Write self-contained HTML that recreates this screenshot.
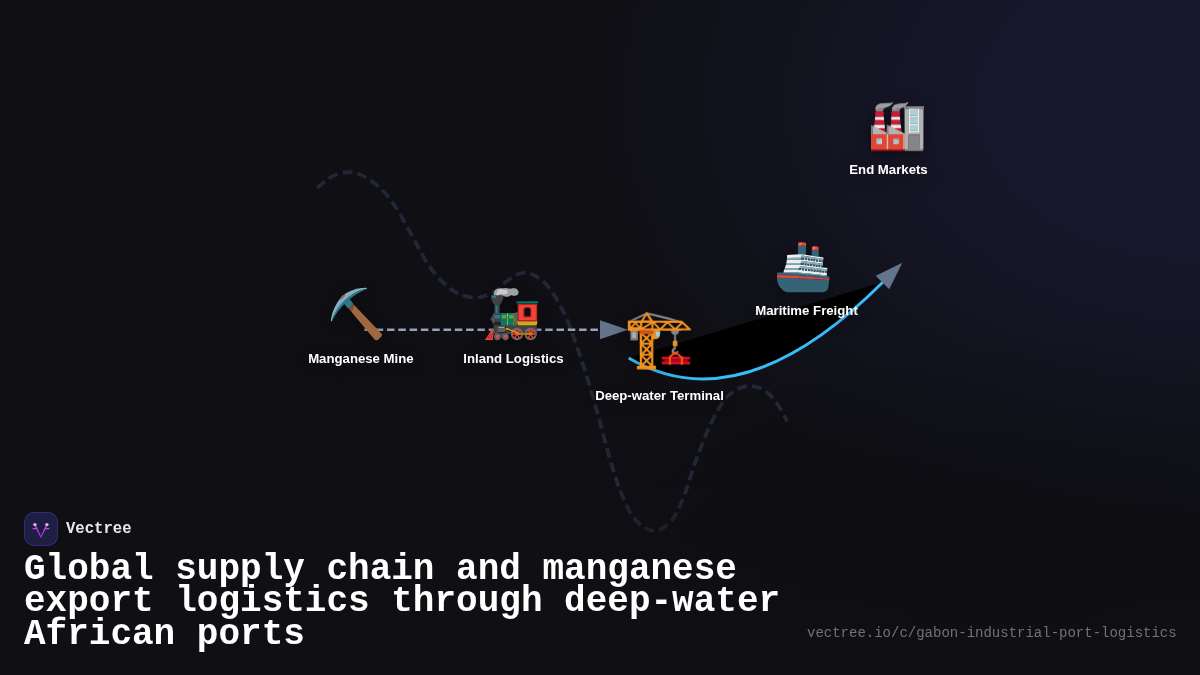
<!DOCTYPE html>
<html lang="en">
<head>
<meta charset="utf-8">
<title>Vectree</title>
<style>
*{box-sizing:border-box;margin:0;padding:0}
html,body{width:1200px;height:675px;overflow:hidden;background:#0f0f14}
body{position:relative;font-family:"Liberation Mono",monospace;color:#fff}
.bg{position:absolute;inset:0;background:radial-gradient(ellipse 610px 440px at 1200px 100px,#17172b 0%,#17172b 35%,rgba(23,23,43,0) 100%),#0f0f14}
.shade{position:absolute;inset:0;background:radial-gradient(ellipse 520px 300px at 1000px 620px,rgba(0,0,0,.24) 0%,rgba(0,0,0,0) 100%)}
.fade{position:absolute;left:0;right:0;top:488px;height:187px;background:linear-gradient(to bottom,rgba(15,15,20,.04) 0%,rgba(15,15,20,.6) 50%,#0f0f14 100%)}
svg.dia{position:absolute;left:0;top:0;width:1200px;height:675px;overflow:visible}
.nodes{filter:drop-shadow(0 3px 8px rgba(0,0,0,.42))}
.lbl{font-family:"Liberation Sans",sans-serif;font-weight:700;font-size:13.2px;fill:#fff;text-anchor:middle}
.brand{position:absolute;left:24px;top:512px;height:34px;display:flex;align-items:center;will-change:transform}
.logo{width:34px;height:34px;border-radius:10px;background:#1e1e42;box-shadow:inset 0 0 0 1px #2f2c78;overflow:hidden}
.logo svg{display:block}
.brand span{margin-left:8px;font-weight:700;font-size:15.6px;color:#e8e8e8}
h1{position:absolute;left:24px;top:554px;font-size:36px;line-height:32.4px;font-weight:700;color:#fff;width:800px;will-change:transform}
.url{position:absolute;right:23.4px;top:625px;font-size:14px;color:#717178;line-height:16px;will-change:transform}
</style>
</head>
<body>
<div class="bg"></div>
<div class="shade"></div>
<svg class="dia" viewBox="0 0 1200 675">
  <path d="M317.1,188.0 C319.4,186.2 326.0,179.7 330.8,177.1 C335.6,174.5 341.4,172.8 346.2,172.3 C350.9,171.8 355.1,172.8 359.3,174.2 C363.5,175.6 367.4,178.3 371.1,180.9 C374.9,183.5 378.4,186.3 381.8,189.6 C385.2,192.9 388.4,197.0 391.3,200.8 C394.2,204.6 396.6,208.5 399.1,212.6 C401.6,216.7 403.9,221.0 406.2,225.2 C408.5,229.4 410.9,233.5 413.1,237.7 C415.4,241.8 417.4,246.0 419.7,250.1 C422.0,254.2 424.2,258.4 426.8,262.4 C429.4,266.3 432.1,270.2 435.1,273.8 C438.1,277.4 441.1,280.9 444.6,284.0 C448.2,287.1 451.9,290.4 456.4,292.7 C460.9,294.9 467.2,296.9 471.8,297.5 C476.4,298.1 479.6,297.5 483.7,296.3 C487.8,295.1 492.9,292.9 496.7,290.4 C500.4,287.9 502.6,284.1 506.2,281.4 C509.8,278.7 514.8,275.6 518.0,274.2 C521.2,272.8 522.6,272.7 525.2,272.8 C527.8,272.9 530.4,273.4 533.5,275.0 C536.6,276.6 540.4,278.3 544.1,282.1 C547.9,285.9 552.1,291.7 556.0,298.0 C559.9,304.3 563.9,312.3 567.2,320.0 C570.5,327.7 573.1,335.7 576.0,344.0 C578.9,352.3 582.1,361.7 584.8,370.0 C587.5,378.3 589.7,386.0 592.0,394.0 C594.3,402.0 596.6,410.0 598.8,418.0 C601.0,426.0 603.0,434.0 605.2,442.0 C607.4,450.0 609.5,458.0 612.0,466.0 C614.5,474.0 617.0,482.3 620.0,490.0 C623.0,497.7 626.3,506.0 630.0,512.0 C633.7,518.0 638.0,522.9 642.0,526.0 C646.0,529.1 650.0,530.8 654.0,530.8 C658.0,530.8 662.3,528.8 666.0,526.0 C669.7,523.2 672.9,519.3 676.0,514.0 C679.1,508.7 682.1,501.0 684.8,494.0 C687.5,487.0 689.5,479.3 692.0,472.0 C694.5,464.7 697.3,457.0 700.0,450.0 C702.7,443.0 705.0,436.7 708.0,430.0 C711.0,423.3 714.7,415.7 718.0,410.0 C721.3,404.3 724.3,399.7 728.0,396.0 C731.7,392.3 736.0,389.7 740.0,388.0 C744.0,386.3 748.0,385.7 752.0,386.0 C756.0,386.3 760.0,387.3 764.0,390.0 C768.0,392.7 772.1,396.8 776.0,402.0 C779.9,407.2 785.3,418.0 787.2,421.2" fill="none" stroke="#212835" stroke-width="3.75" stroke-dasharray="10 5"/>
  <line x1="364.400" y1="329.750" x2="600" y2="329.750" stroke="#94a3b8" stroke-width="2.500" stroke-dasharray="7.500 3.800"/>
  <polygon points="600,320.200 628,329.750 600,339.300" fill="#64748b"/>
  <path d="M628.75,358 Q741,424 883,282" stroke="#38bdf8" stroke-width="3"/>
  <polygon points="0,-9.500 28,0 0,9.500" fill="#64748b" transform="translate(882.500,282.500) rotate(-45)"/>
  <g class="nodes">
<g transform="translate(326.72,286.1) scale(0.1193)" fill-rule="evenodd"><path fill="#a06841" d="M228 157L219 189L206 215L399 445L410 453L423 453L431 449L461 421L463 406L460 399ZM153 68L149 68L131 79L114 97L108 110L119 111L136 101L151 85L155 77Z"/><path fill="#82aec0" d="M337 17L332 14L296 15L249 23L204 38L172 54L152 67L151 69L154 75L147 87L127 105L117 110L109 109L90 135L70 170L54 207L44 238L36 276L35 293L42 295L47 288L45 286L59 249L78 213L94 188L129 144L165 109L201 80L236 58L286 35L316 26L327 24L330 26L334 25L337 22Z"/><path fill="#2f7788" d="M332 25L330 23L314 25L266 41L220 65L187 88L163 108L120 151L83 201L58 247L49 269L44 288L47 288L69 248L100 204L147 151L175 183L179 183L181 185L182 183L192 179L214 159L221 149L218 140L191 111L221 87L259 62L285 47Z"/><path fill="#7c5133" d="M220 148L198 172L190 178L180 182L182 187L207 216L209 215L220 191L229 159Z"/></g>
<g transform="translate(481.92,286.1) scale(0.1193)" fill-rule="evenodd"><path fill="#424242" d="M84 383L79 384L47 439L47 443L55 443L83 388ZM93 382L89 382L70 437L70 443L78 442L92 391ZM428 376L419 391L419 396L442 396L442 390L434 376ZM384 375L375 388L374 396L397 396L397 391L388 375ZM315 375L306 390L306 394L310 396L328 396L328 389L324 381L319 375ZM398 367L397 373L405 387L410 388L419 373L419 367ZM284 367L283 372L290 384L290 387L297 388L306 372L306 368L300 366ZM460 324L452 327L97 326L97 402L112 402L125 396L135 396L147 402L156 413L158 419L158 431L169 431L169 419L173 410L179 403L187 398L202 396L216 402L242 402L244 383L214 371L202 371L201 384L197 390L192 392L139 391L137 385L133 382L130 368L131 348L136 338L191 338L194 342L199 344L201 354L211 352L216 355L221 355L225 359L251 370L254 370L263 360L275 353L292 349L308 351L323 358L333 367L342 381L346 396L357 395L358 387L364 374L372 364L381 357L395 351L412 349L425 352L438 359L446 366L454 377L457 385L460 386ZM87 266L86 268L82 267L82 286L86 285L88 287L91 284L91 269ZM178 75L118 75L117 78L122 82L122 99L120 101L87 101L85 99L85 82L92 76L76 77L76 100L80 113L93 141L106 161L106 225L97 226L95 230L97 233L99 250L99 310L109 306L150 306L157 310L160 309L161 252L158 226L149 225L149 160L162 140L175 112L179 99L180 79ZM105 246L108 243L151 243L154 249L155 269L152 273L109 273L106 270ZM114 162L132 163L131 225L113 224Z"/><path fill="#f34336" d="M192 407L186 410L180 419L180 430L184 437L192 442L202 442L207 440L213 434L215 429L215 420L213 415L207 409L202 407ZM125 407L120 409L113 417L113 432L122 441L135 442L141 439L146 433L147 419L144 413L138 408ZM254 383L251 396L253 415L259 427L268 436L277 441L287 444L301 444L314 440L329 428L335 417L337 406L327 406L329 408L327 414L317 428L305 409L307 407L305 403L281 394L262 395L263 385ZM294 413L306 432L305 435L288 436L282 433ZM260 409L261 407L284 408L272 428L264 419ZM98 363L86 366L77 374L33 442L26 446L25 452L96 452L96 447L91 442L98 401ZM75 396L76 398L54 441L49 442L48 441ZM90 385L91 389L77 440L72 442L71 439ZM398 359L385 364L373 375L367 386L365 396L375 396L379 384L386 376L395 391L396 396L420 396L420 393L430 377L432 377L438 385L441 394L425 395L426 403L424 407L441 407L442 410L440 416L431 428L418 408L419 406L397 406L398 408L386 428L378 419L374 409L375 406L366 406L367 416L373 427L382 436L391 441L401 444L423 442L437 434L446 423L451 409L450 389L443 375L431 364L418 359ZM408 413L420 432L418 435L402 436L396 433ZM417 368L418 371L408 387L398 370L404 367ZM262 372L262 375L271 377L278 382L291 386L291 382L284 370L290 367L303 368L305 370L296 385L297 390L307 393L317 376L323 383L327 391L327 396L337 396L335 385L327 372L317 364L308 360L297 358L280 360L271 364ZM309 157L309 285L311 287L448 288L453 285L454 160L452 155L313 154ZM359 181L371 176L386 175L402 180L412 189L413 256L409 260L356 261L349 256L349 191Z"/><path fill="#01796b" d="M215 226L219 259L219 299L216 328L264 328L267 305L267 253L264 226ZM224 245L226 243L258 243L262 256L261 272L227 273L225 271ZM156 226L160 254L160 303L158 308L158 328L210 328L213 300L213 256L209 226ZM168 244L201 243L205 252L205 271L203 273L171 273L168 268ZM289 129L289 142L293 144L295 142L472 142L471 128Z"/><path fill="#546e79" d="M191 395L181 399L172 408L168 417L168 430L174 442L182 449L192 453L203 453L216 447L222 440L226 431L226 418L222 409L216 402L217 400L204 395ZM194 408L205 410L212 417L214 422L212 432L205 439L200 441L194 441L187 437L181 428L181 421L188 411ZM111 400L112 402L105 409L101 419L101 430L105 440L114 449L124 453L136 453L147 448L154 441L159 430L159 417L153 405L146 399L137 395L123 395ZM127 408L133 408L139 411L146 421L145 431L139 438L133 441L122 439L116 433L113 426L116 416L122 410ZM243 383L241 401L246 422L251 431L261 442L277 451L295 454L318 448L326 443L335 434L344 418L347 406L336 406L334 415L328 426L316 437L299 443L284 442L270 435L260 425L256 418L252 403L256 382L245 379ZM414 348L393 350L379 356L371 362L360 377L355 396L366 396L370 383L374 377L387 365L400 360L408 359L425 363L432 367L442 377L446 383L450 395L449 411L440 428L431 436L421 441L403 443L387 437L372 422L368 414L367 406L355 406L363 428L376 443L388 450L407 454L421 452L440 443L452 430L460 410L460 384L458 383L451 369L445 362L434 354ZM253 367L253 371L263 374L270 367L282 361L294 359L306 361L315 365L326 374L334 387L336 396L347 396L343 379L334 365L325 357L310 350L300 348L279 350L267 355ZM79 261L74 271L74 282L77 290L81 292L83 285L82 262Z"/><path fill="#9fa0a2" d="M135 346L136 354L190 354L192 352L192 346L189 341L138 341ZM156 21L138 20L127 23L116 29L108 37L102 47L99 59L100 75L97 77L118 78L121 61L129 45L141 32L155 24ZM143 75L176 76L179 83L181 82L190 87L203 90L221 89L243 77L248 76L261 80L279 81L292 77L302 70L307 58L307 45L303 36L294 26L288 22L276 18L254 18L239 22L232 22L200 15L173 17L158 22L175 32L197 31L206 34L216 44L217 55L215 60L203 68L191 69L182 67L161 67L144 72Z"/><path fill="#e1a511" d="M196 353L197 366L217 367L259 385L262 388L277 393L280 396L284 396L303 404L305 407L355 406L374 408L426 407L427 397L425 395L312 395L297 387L280 381L273 376L269 376L227 358L223 354L218 354L213 351L206 351L200 354ZM299 321L303 327L307 328L454 328L460 325L463 307L299 307ZM263 226L266 255L266 303L263 328L271 328L275 289L274 250L271 226ZM208 226L212 258L212 298L209 328L217 328L220 301L219 244L217 227Z"/><path fill="#c32a29" d="M357 180L348 189L348 258L354 262L411 261L414 258L413 187L404 179L388 174L374 174ZM363 186L373 182L389 182L401 187L407 193L406 254L356 253L356 192ZM298 146L300 148L300 216L298 217L299 297L463 297L463 147ZM310 159L315 155L450 156L453 162L452 283L446 287L313 286L310 283Z"/><path fill="#62605f" d="M133 338L129 354L129 370L133 386L194 386L198 370L198 354L196 342L193 337ZM136 348L140 342L187 342L190 345L191 350L188 353L138 353ZM95 230L88 251L87 268L90 271L90 282L87 285L87 293L90 310L93 319L97 324L100 314L101 278L98 231ZM300 217L270 226L274 272L273 305L270 328L304 328L304 324L300 319L300 307L295 303L296 299L300 297Z"/><path fill="#2f7888" d="M104 244L105 272L107 274L155 273L156 256L153 242L106 242ZM112 161L112 226L133 226L133 161ZM85 78L85 102L123 101L122 78L90 76Z"/><path fill="#cacacb" d="M117 76L141 76L150 71L163 68L180 68L189 70L205 69L216 62L218 57L218 45L211 35L203 31L177 31L160 21L154 21L139 31L128 43L120 59Z"/><path fill="#4ca653" d="M223 243L225 274L262 274L263 254L260 242ZM167 242L167 270L169 274L206 273L207 260L205 245L203 242Z"/><path fill="#242223" d="M261 388L261 393L264 396L280 396L279 392L270 388ZM246 378L216 365L197 365L196 375L192 385L136 385L136 390L139 393L194 393L199 391L202 386L204 372L212 372L239 384L245 384ZM194 341L196 354L202 355L202 346L200 342ZM95 323L97 328L159 328L160 311L157 307L152 305L107 305L99 309L98 318Z"/><path fill="#ffca28" d="M294 299L294 305L298 308L462 308L467 304L467 299L462 296L297 296Z"/><path fill="#054d42" d="M292 142L300 148L462 148L470 143L469 141Z"/></g>
<g transform="translate(623.7,305.2) scale(0.142)" fill-rule="evenodd"><path fill="#f3911c" d="M346 252L345 288L354 290L376 289L378 285L377 253L368 250ZM472 167L410 108L390 108L383 105L380 107L333 106L333 108L206 108L181 72L182 69L170 54L171 52L162 47L151 55L151 58L139 75L140 78L122 107L74 108L42 106L39 108L31 108L29 110L29 179L47 181L111 181L112 179L207 180L206 202L177 202L173 209L160 222L140 203L141 202L112 201L113 425L109 427L93 428L93 452L225 453L227 451L227 428L223 426L208 425L208 240L236 237L241 235L248 227L224 210L225 186L256 186L257 179L388 180L419 178L469 178L473 176L474 173ZM136 426L161 400L186 425L158 427ZM129 368L150 389L148 393L129 412ZM192 367L192 411L171 390ZM136 355L185 355L161 379ZM142 341L161 321L181 340L155 342ZM129 289L150 310L150 312L129 334ZM192 288L192 331L171 311L172 308ZM137 278L182 278L161 301ZM137 264L159 242L163 244L183 264ZM129 211L150 231L129 253ZM192 209L192 252L170 231ZM63 155L81 135L102 155ZM195 135L194 164L144 163L192 135ZM210 132L239 163L238 164L208 163ZM380 163L413 131L444 162L443 164ZM274 163L308 129L345 163ZM90 126L114 125L115 148L114 149ZM71 125L72 126L49 151L48 126ZM130 155L131 124L182 125L135 154ZM322 124L399 124L362 161ZM221 125L238 123L293 124L256 161ZM140 105L161 72L184 106L141 107Z"/><path fill="#858585" d="M355 346L355 348L359 349L370 348L369 344L365 341L361 341ZM376 321L374 322L370 332L381 338L384 332L384 325L382 322ZM369 289L353 289L354 296L340 311L337 317L337 331L342 340L345 340L355 331L353 322L355 318L367 308ZM46 180L47 245L49 247L96 247L99 243L100 180ZM63 191L82 191L86 194L87 225L83 231L62 231L59 228L59 195ZM333 179L334 193L347 207L355 208L354 252L369 251L367 208L376 207L387 195L389 179ZM153 54L43 107L74 108L74 106L136 77L140 77L152 60ZM169 51L169 56L181 71L183 70L333 106L335 108L382 108L384 106L315 86Z"/><path fill="#dc0d2a" d="M417 396L417 417L468 416L467 397ZM333 396L333 417L403 417L402 396ZM268 396L268 416L319 417L318 396ZM416 362L417 383L467 382L467 364ZM333 364L333 383L402 383L401 368L393 362L335 362ZM268 362L268 382L318 383L318 362Z"/><path fill="#ff510f" d="M318 361L317 416L321 420L328 421L334 416L334 366L344 356L363 342L368 346L368 348L371 347L400 370L401 416L406 421L413 421L417 418L418 363L414 360L409 360L373 331L362 325L356 329L354 328L349 334L341 339L342 340Z"/><path fill="#d15116" d="M109 180L110 200L113 203L208 203L208 178L110 178Z"/><path fill="#ac0c1b" d="M417 382L417 397L452 398L450 396L451 382ZM333 382L333 397L402 397L402 382ZM286 381L286 397L318 397L318 382Z"/><path fill="#b0b0af" d="M61 190L58 193L58 230L60 232L85 232L88 227L87 192L84 190Z"/><path fill="#a7d0d6" d="M223 185L223 212L240 225L247 228L253 218L255 210L256 184Z"/></g>
<g transform="translate(773.56,238.14) scale(0.1193)" fill-rule="evenodd"><path fill="#356477" d="M29 332L29 344L34 371L41 390L51 407L62 421L81 438L96 447L114 453L420 453L437 446L450 434L456 423L460 409L466 350L162 334ZM28 312L147 316L233 321L379 333L467 342L468 324L466 322L448 320L446 318L443 319L397 314L394 312L388 313L385 311L380 312L376 310L369 311L367 309L359 310L357 308L350 309L347 307L340 308L336 306L320 306L316 304L309 305L306 303L298 304L295 302L288 303L267 301L262 299L254 300L251 298L242 299L238 297L229 298L225 296L216 297L212 295L202 296L197 294L189 295L168 292L141 292L135 290L122 291L86 288L33 289L30 292ZM320 98L320 137L318 148L378 156L378 100L358 96L334 96ZM205 62L204 130L202 136L238 135L271 140L272 64L243 59L215 60Z"/><path fill="#eeeeee" d="M86 268L85 288L149 287L203 289L333 300L446 313L448 292L433 290L433 276L425 276L423 289L410 288L410 274L401 273L399 287L387 286L385 284L386 271L376 271L376 282L374 284L361 282L362 268L352 267L351 280L343 281L336 279L338 266L333 264L328 264L326 278L312 276L312 262L304 262L302 276L289 274L288 259L280 259L279 271L277 273L264 271L265 257L255 256L255 267L253 270L241 269L239 267L240 254L231 253L231 262L229 267L209 265L104 266L89 264ZM94 252L216 254L224 235L448 263L451 261L452 251L401 244L399 242L400 229L391 229L389 242L376 240L377 226L368 226L366 239L354 238L354 223L345 223L345 232L343 236L330 234L331 221L322 220L322 229L320 234L308 232L308 218L299 217L297 231L287 230L284 228L285 215L276 214L274 228L263 227L261 225L263 212L253 211L251 225L228 222L105 222ZM107 210L230 210L232 193L234 191L414 215L415 202L403 200L404 187L395 186L393 200L381 198L381 183L372 182L370 196L358 195L358 180L349 179L347 193L335 192L335 177L326 176L324 190L313 189L311 187L311 173L303 173L301 187L290 186L288 184L289 170L280 169L279 183L268 183L265 181L267 167L257 166L255 181L237 178L112 180ZM114 141L113 167L235 164L235 147L238 146L416 174L418 172L418 162L240 134L218 134Z"/><path fill="#82adbf" d="M84 289L120 292L133 291L139 293L200 297L210 296L214 298L223 297L227 299L236 298L240 300L249 299L252 301L260 300L265 302L286 304L293 303L296 305L304 304L307 306L314 305L318 307L334 307L338 309L345 308L348 310L355 309L357 311L365 310L367 312L374 311L378 313L392 313L395 315L441 320L447 319L446 312L282 294L189 287L85 286ZM88 265L102 267L207 267L217 253L227 255L234 254L253 258L260 257L279 261L286 260L288 262L310 263L312 265L331 265L340 268L354 268L367 271L431 277L449 280L450 272L449 261L231 234L222 234L215 253L95 251ZM104 223L227 223L229 211L236 210L412 233L414 214L232 190L228 208L108 209ZM112 181L234 179L234 165L236 164L287 171L288 173L309 174L334 179L352 180L357 182L416 190L417 172L234 145L233 163L113 166Z"/><path fill="#f34336" d="M28 312L29 333L160 335L377 345L466 351L467 341L312 326L170 316L74 312ZM330 71L324 72L321 75L320 99L330 98ZM347 69L348 97L363 98L378 102L377 75L367 71ZM217 36L210 37L205 42L205 63L216 62ZM234 34L235 60L272 65L273 44L271 40L260 36Z"/><path fill="#365665" d="M433 277L432 292L448 293L449 279ZM409 275L408 289L425 290L426 276ZM385 272L384 286L401 288L402 273ZM361 269L360 284L376 285L377 271ZM337 266L335 281L352 282L353 268ZM312 264L311 278L328 279L329 265ZM288 261L287 275L304 277L305 262ZM263 258L262 272L274 274L280 273L280 259ZM239 255L238 269L255 271L256 257ZM208 263L208 267L231 268L232 254L215 252ZM399 230L398 244L412 246L412 231ZM376 227L375 242L391 243L392 229ZM353 224L352 239L368 240L369 226ZM330 221L329 236L345 237L346 223ZM307 218L306 233L322 235L323 220ZM284 216L283 230L299 232L300 217ZM262 213L260 227L276 229L277 214ZM228 209L226 219L227 224L253 226L254 211ZM403 187L402 202L415 203L416 189ZM380 184L379 199L395 201L396 186ZM357 181L356 196L372 197L373 183ZM334 178L333 193L349 194L350 179ZM311 174L310 189L326 191L327 176ZM289 171L287 186L303 188L304 173ZM265 168L264 183L280 185L281 170ZM233 163L233 179L257 182L258 166Z"/><path fill="#fe7454" d="M349 69L329 71L329 98L349 97ZM236 34L215 36L215 61L236 61Z"/></g>
<g transform="translate(867.54,96.95) scale(0.1193)" fill-rule="evenodd"><path fill="#b2b2b2" d="M42 240L42 313L160 313L160 297L158 298L154 296L149 291L56 244L54 245L43 239ZM310 98L311 304L309 305L287 294L284 290L231 265L229 262L223 261L195 247L194 245L191 246L172 237L173 313L309 313L310 438L343 438L344 318L348 315L433 315L438 319L439 323L439 437L468 438L469 98L434 99L434 294L372 296L345 295L346 98Z"/><path fill="#e14537" d="M173 312L173 438L300 438L300 312ZM220 350L256 350L260 353L261 385L260 390L257 393L222 393L218 390L217 354ZM29 313L29 439L160 438L160 312ZM78 350L113 349L119 353L120 386L116 393L82 394L76 390L75 354Z"/><path fill="#858587" d="M344 315L342 318L342 436L310 437L309 453L466 452L468 436L440 435L439 317L435 314ZM30 236L29 313L43 313L44 240L36 235ZM161 233L159 313L174 313L174 237L166 233ZM285 93L281 91L204 108L205 123L267 124L267 118L272 104ZM147 90L144 89L78 104L66 105L70 123L128 124L129 115L133 105ZM301 83L303 85L303 98L311 100L468 100L474 98L473 78L316 78L313 76L302 78Z"/><path fill="#f1edec" d="M218 349L216 352L217 392L220 394L259 394L262 387L261 351L258 349ZM225 358L252 357L253 384L251 386L226 386ZM76 349L74 352L75 392L80 395L118 394L121 388L120 351L115 348ZM82 358L111 357L112 385L83 386ZM54 245L86 262L146 262L143 231L57 231ZM195 230L194 243L192 246L193 248L221 262L282 262L278 230ZM200 164L198 193L274 193L271 164ZM64 165L61 193L139 194L136 164ZM345 98L344 297L435 296L435 99ZM357 239L421 238L422 283L358 284ZM357 174L421 173L422 224L358 225ZM357 111L421 110L422 158L358 159Z"/><path fill="#cc1935" d="M285 292L282 260L228 261L229 266ZM149 292L146 260L91 261L92 265L145 292ZM198 192L195 231L278 231L274 192ZM61 192L57 232L143 232L139 192ZM64 127L62 136L63 140L67 144L64 165L136 165L134 146L138 139L138 129L136 126L128 122L71 122ZM199 126L197 137L202 144L200 165L271 165L269 144L273 140L274 131L272 126L267 122L230 123L205 121Z"/><path fill="#a8d0d6" d="M224 356L224 387L253 387L254 356ZM81 356L81 387L113 387L113 356ZM356 237L356 285L423 285L423 237ZM356 172L356 226L423 226L423 172ZM356 109L356 160L423 160L423 109Z"/><path fill="#9d9c9e" d="M340 45L335 45L316 52L267 55L233 63L222 70L208 86L204 98L203 109L279 93L284 94L303 84L304 79L316 78L315 77L335 59L340 50ZM214 44L190 51L125 52L106 55L91 60L76 71L72 77L66 91L66 107L141 91L146 92L154 87L178 80L198 68L210 55Z"/><path fill="#a41917" d="M29 438L30 450L34 453L311 453L311 437Z"/><path fill="#f4b59c" d="M299 312L299 438L311 438L311 312ZM159 312L159 438L174 438L174 312Z"/></g>
  <text class="lbl" x="360.900" y="363">Manganese Mine</text>
  <text class="lbl" x="513.500" y="363">Inland Logistics</text>
  <text class="lbl" x="659.500" y="400">Deep-water Terminal</text>
  <text class="lbl" x="806.500" y="315">Maritime Freight</text>
  <text class="lbl" x="888.500" y="174">End Markets</text>
  </g>
</svg>
<div class="fade"></div>
<div class="brand"><div class="logo"><svg width="34" height="34" viewBox="0 0 34 34"><defs><linearGradient id="lg" x1="0" y1="26" x2="0" y2="11" gradientUnits="userSpaceOnUse"><stop offset="0" stop-color="#8a22cc"/><stop offset=".55" stop-color="#c640e8"/><stop offset="1" stop-color="#d66cf0"/></linearGradient></defs><path d="M10.900,12.700 L16.900,25.300 L22.900,12.700 M12.900,16.700 H9.200 M20.900,16.700 H24.700" fill="none" stroke="url(#lg)" stroke-width="1.250" stroke-linecap="round" stroke-linejoin="round"/><circle cx="10.900" cy="12.600" r="1.700" fill="#e2b0f2"/><circle cx="22.900" cy="12.600" r="1.700" fill="#e2b0f2"/></svg></div><span>Vectree</span></div>
<h1>Global supply chain and manganese export logistics through deep-water African ports</h1>
<div class="url">vectree.io/c/gabon-industrial-port-logistics</div>
</body>
</html>
